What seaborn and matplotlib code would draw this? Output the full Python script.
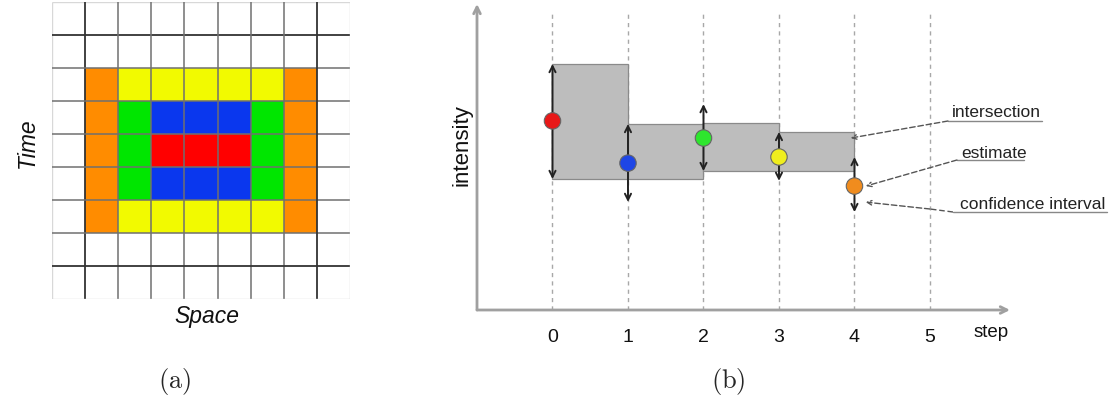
import numpy as np
import matplotlib
matplotlib.use("Agg")
import matplotlib.pyplot as plt
from matplotlib.colors import ListedColormap
import seaborn as sns

# ---------------- data ----------------
# panel (a): 9x9 space-time grid, codes: 0 white, 1 orange, 2 yellow, 3 green, 4 blue, 5 red
grid_codes = [
    [0, 0, 0, 0, 0, 0, 0, 0, 0],
    [0, 0, 0, 0, 0, 0, 0, 0, 0],
    [0, 1, 2, 2, 2, 2, 2, 1, 0],
    [0, 1, 3, 4, 4, 4, 3, 1, 0],
    [0, 1, 3, 5, 5, 5, 3, 1, 0],
    [0, 1, 3, 4, 4, 4, 3, 1, 0],
    [0, 1, 2, 2, 2, 2, 2, 1, 0],
    [0, 0, 0, 0, 0, 0, 0, 0, 0],
    [0, 0, 0, 0, 0, 0, 0, 0, 0],
]
grid_colors = ["#ffffff", "#ff8c00", "#f2fa00", "#00e600", "#0a37ee", "#ff0000"]

# panel (b)
steps = [0, 1, 2, 3, 4, 5]
step_labels = ["0", "1", "2", "3", "4", "5"]
est_labels = ["s0", "s1", "s2", "s3", "s4"]
estimates = [6.18, 4.80, 5.62, 5.00, 4.05]
ci_low = [4.28, 3.53, 4.54, 4.22, 3.20]
ci_high = [8.04, 6.08, 6.73, 5.82, 5.00]
est_colors = ["#e81818", "#1e46e6", "#2ee62e", "#f0ee1e", "#f08c1e"]
inter_low = [4.28, 4.28, 4.54, 4.54]
inter_high = [8.04, 6.08, 6.12, 5.82]

# ---------------- style ----------------
sns.set_style("white")
plt.rcParams["font.family"] = ["Liberation Sans", "DejaVu Sans"]
plt.rcParams["mathtext.fontset"] = "cm"

W, H = 1116, 402
fig = plt.figure(figsize=(W / 100, H / 100), dpi=100)

# ---------------- panel (a) ----------------
ax_a = fig.add_axes([52 / W, 1 - 300 / H, 298 / W, 297 / H])
sns.heatmap(np.array(grid_codes), cmap=ListedColormap(grid_colors), vmin=-0.5, vmax=5.5,
            cbar=False, ax=ax_a, linewidths=0, xticklabels=False, yticklabels=False)
n = len(grid_codes)
for i in range(0, n + 1):
    if i in (0, n):
        c, lw = "#d8d8d8", 1.0
    elif i in (1, n - 1):
        c, lw = "#333333", 1.3
    else:
        c, lw = "#707070", 1.1
    ax_a.vlines(i, 0, n, colors=c, lw=lw)
    ax_a.hlines(i, 0, n, colors=c, lw=lw)
for s in ax_a.spines.values():
    s.set_visible(False)
ax_a.set_xlabel("Space", fontsize=16.5, style="italic", color="#111")
ax_a.set_ylabel("Time", fontsize=16.5, style="italic", color="#111")
ax_a.xaxis.set_label_coords((207 - 52) / 298, (300 - 317) / 297)
ax_a.xaxis.label.set_va("center")
ax_a.yaxis.set_label_coords((27 - 52) / 298, (300 - 143) / 297)
ax_a.yaxis.label.set_va("center")

# ---------------- panel (b) ----------------
ax_b = fig.add_axes([477 / W, 1 - 311 / H, 533 / W, 306 / H])
ax_b.set_xlim(-1, 6.06)
ax_b.set_ylim(0, 10)
for s in ax_b.spines.values():
    s.set_visible(False)
ax_b.set_facecolor("none")

# axes arrows
ax_b.annotate("", xy=(-1, 10), xytext=(-1, 0),
              arrowprops=dict(arrowstyle="->", color="#a0a0a0", lw=2, shrinkA=0, shrinkB=0,
                              mutation_scale=12), annotation_clip=False)
ax_b.annotate("", xy=(6.06, 0), xytext=(-1, 0),
              arrowprops=dict(arrowstyle="->", color="#a0a0a0", lw=2, shrinkA=0, shrinkB=0,
                              mutation_scale=12), annotation_clip=False)

# dashed step lines
ax_b.vlines(steps, 0, 9.77, colors="#a8a8a8", lw=1, linestyles=(0, (3, 3)), zorder=1)

# intersection rectangles
heights = [h - l for h, l in zip(inter_high, inter_low)]
ax_b.bar(steps[:4], heights, bottom=inter_low, width=1, align="edge",
         color="#bdbdbd", edgecolor="#8a8a8a", linewidth=0.9, zorder=2)

# confidence intervals (double arrows)
for s, lo, hi in zip(steps, ci_low, ci_high):
    ax_b.annotate("", xy=(s, hi), xytext=(s, lo),
                  arrowprops=dict(arrowstyle="<->", color="#222222", lw=1.4,
                                  shrinkA=0, shrinkB=0, mutation_scale=11), zorder=3)

# estimates
sns.scatterplot(x=steps[:5], y=estimates, hue=est_labels, palette=est_colors, s=140,
                edgecolor="#666666", linewidth=0.8, legend=False, zorder=5, ax=ax_b)

ax_b.set_xticks(steps)
ax_b.set_xticklabels(step_labels)
ax_b.tick_params(axis="x", length=0, pad=13, labelsize=14, labelcolor="#111")
ax_b.set_yticks([])
ax_b.set_xlabel("step", fontsize=13.5, color="#111")
ax_b.xaxis.set_label_coords((991 - 477) / 533, (311 - 333) / 306)
ax_b.xaxis.label.set_va("center")
ax_b.set_ylabel("intensity", fontsize=16, color="#111")
ax_b.yaxis.set_label_coords((462 - 477) / 533, (311 - 145) / 306)
ax_b.yaxis.label.set_va("center")

# callouts
def px2d(px, py):
    return (px - 477) / 75.5 - 1, (311 - py) / 30.6

callouts = [
    ("intersection", (952, 113), (948, 1042, 122), (steps[4] - 0.05, inter_high[3] - 0.2), None),
    ("estimate", (961, 153), (957, 1024, 161), (steps[4] + 0.15, estimates[4]), None),
    ("confidence interval", (960, 205), (953, 1107, 213),
     (steps[4] + 0.15, (estimates[4] + ci_low[4]) / 2 - 0.1), (930, 210)),
]
for label, (tx, ty), (ux0, ux1, uy), target, via in callouts:
    x0, y0 = px2d(tx, ty)
    ax_b.text(x0, y0, label, fontsize=12.5, va="center", ha="left", color="#222", clip_on=False)
    a, yy = px2d(ux0, uy)
    b, _ = px2d(ux1, uy)
    ax_b.plot([a, b], [yy, yy], color="#888888", lw=1.0, clip_on=False)
    start = (a, yy)
    if via is not None:
        vx, vy = px2d(*via)
        ax_b.plot([a, vx], [yy, vy], color="#555555", lw=1.0, ls=(0, (4, 2)), clip_on=False)
        start = (vx, vy)
    ax_b.annotate("", xy=target, xytext=start,
                  arrowprops=dict(arrowstyle="->", color="#555555", lw=1.0, ls=(0, (4, 2)),
                                  shrinkA=0, shrinkB=0, mutation_scale=8),
                  annotation_clip=False)

# panel captions
fig.text(175 / W, 1 - 382 / H, r"$\mathrm{(a)}$", ha="center", va="center", fontsize=19)
fig.text(728 / W, 1 - 382 / H, r"$\mathrm{(b)}$", ha="center", va="center", fontsize=19)

fig.savefig("out.png", dpi=100)
